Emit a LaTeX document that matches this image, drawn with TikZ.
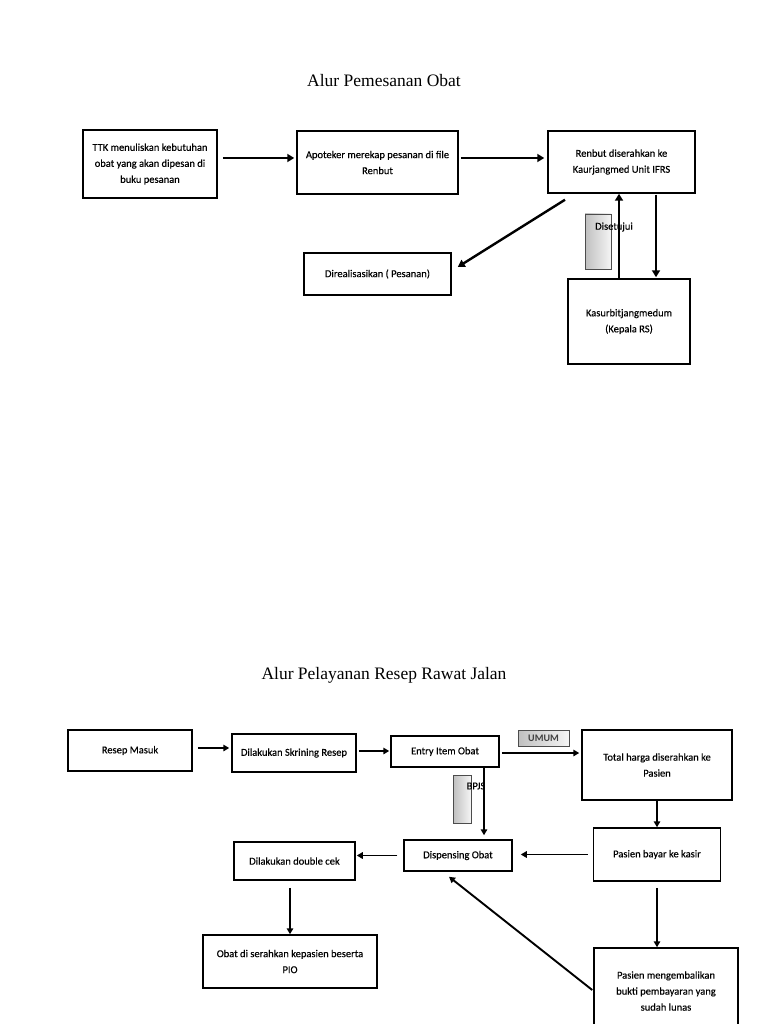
\documentclass[tikz,border=0pt]{standalone}
\usepackage{fontspec}
\setmainfont{Carlito}
\newfontfamily\boxfont{Carlito}[FakeBold=0.35]
\newfontfamily\titlefont{Liberation Serif}
\usetikzlibrary{arrows.meta}
\tikzset{
  box/.style={draw=black, line width=1.5pt, fill=white, align=center, inner sep=0pt,
    font=\boxfont\fontsize{10.5}{16}\selectfont},
  tag/.style={draw=black!70, line width=0.7pt, left color=black!25, right color=black!4},
  tagtext/.style={inner sep=0pt, font=\boxfont\fontsize{10.5}{12}\selectfont},
  arr/.style={line width=2.4pt, -{Triangle[length=7pt,width=8pt]}},
  arrb/.style={line width=1.9pt, -{Triangle[length=6pt,width=6.5pt]}},
  heading/.style={font=\titlefont\fontsize{17.5}{19}\selectfont, inner sep=0pt}
}
\begin{document}
\begin{tikzpicture}[x=1pt,y=-1pt]
\useasboundingbox[fill=white] (0,0) rectangle (768,1024);

% ---------------- Top flow ----------------
\node[heading] (t1) at (384,81) {Alur Pemesanan Obat};

\node[box, minimum width=134pt, minimum height=68pt] (ttk) at (150,164)
  {TTK menuliskan kebutuhan\\obat yang akan dipesan di\\buku pesanan};
\node[box, minimum width=161pt, minimum height=63pt] (apo) at (377.5,162.5)
  {Apoteker merekap pesanan di file\\Renbut};
\node[box, minimum width=147pt, minimum height=62pt] (ren) at (621.5,162)
  {Renbut diserahkan ke\\Kaurjangmed Unit IFRS};
\node[box, minimum width=147pt, minimum height=42pt] (real) at (377.5,274)
  {Direalisasikan ( Pesanan)};
\node[box, minimum width=122pt, minimum height=85pt] (kas) at (629,321.5)
  {Kasurbitjangmedum\\(Kepala RS)};

\node[tag, minimum width=26pt, minimum height=55pt, inner sep=0pt] (setuju) at (598,241.5) {};
\node[tagtext, anchor=west] (setujut) at (595,227) {Disetujui};

\draw[arr] ([shift={(5,-6)}]ttk.east) -- ([shift={(-2,-4.5)}]apo.west);
\draw[arr] ([shift={(2,-4.5)}]apo.east) -- ([shift={(-3,-4)}]ren.west);
\draw[arr] ([shift={(-56.5,6)}]ren.south) -- ([shift={(6,-7)}]real.east);
\draw[arr] ([shift={(-10,0)}]kas.north) -- ([shift={(-2.5,0)}]ren.south);
\draw[arr] ([shift={(34.5,1)}]ren.south) -- ([shift={(27,-1)}]kas.north);

% ---------------- Bottom flow ----------------
\node[heading] (t2) at (384,675) {Alur Pelayanan Resep Rawat Jalan};

\node[box, minimum width=124pt, minimum height=41pt] (resep) at (130,750.5) {Resep Masuk};
\node[box, minimum width=124pt, minimum height=38pt] (skr) at (294,753) {Dilakukan Skrining Resep};
\node[box, minimum width=108pt, minimum height=31pt] (entry) at (445,751.5) {Entry Item Obat};
\node[box, minimum width=150pt, minimum height=70pt] (total) at (657,765)
  {Total harga diserahkan ke\\Pasien};
\node[box, minimum width=127pt, minimum height=53pt] (kasir) at (657,854.5) {Pasien bayar ke kasir};
\node[box, minimum width=108pt, minimum height=31pt] (disp) at (458,855.5) {Dispensing Obat};
\node[box, minimum width=121pt, minimum height=38pt] (dcek) at (294.5,861) {Dilakukan double cek};
\node[box, minimum width=174pt, minimum height=53pt] (obat) at (290,961.5)
  {Obat di serahkan kepasien beserta\\PIO};
\node[box, minimum width=144pt, minimum height=86pt] (kembali) at (666,991)
  {Pasien mengembalikan\\bukti pembayaran yang\\sudah lunas};

\node[tag, minimum width=51pt, minimum height=16pt, inner sep=0pt, text=black!75,
  font=\fontsize{10}{11}\selectfont\bfseries] (umum) at (543.5,738) {UMUM};
\node[tag, minimum width=18pt, minimum height=48pt, inner sep=0pt] (bpjs) at (462,799) {};
\node[tagtext] (bpjst) at (476,786) {BPJS};

\draw[arrb] ([shift={(5,-2.5)}]resep.east) -- ([shift={(-2,-5)}]skr.west);
\draw[arrb] ([shift={(2,-2)}]skr.east) -- ([shift={(-1,-0.5)}]entry.west);
\draw[arrb] ([shift={(2,1.5)}]entry.east) -- ([shift={(-2,-12)}]total.west);
\draw[arrb] ([shift={(39,0)}]entry.south) -- ([shift={(26,-4)}]disp.north);
\draw[arrb] (total.south) -- (kasir.north);
\draw[arrb] ([shift={(-5,0)}]kasir.west) -- ([shift={(8,-1)}]disp.east);
\draw[arrb] ([shift={(-6,0)}]disp.west) -- ([shift={(1,-5.5)}]dcek.east);
\draw[arrb] ([shift={(-4.5,7)}]dcek.south) -- (obat.north);
\draw[arrb] ([shift={(0,6)}]kasir.south) -- ([shift={(-9,0)}]kembali.north);
\draw[arrb] ([shift={(-1,-1)}]kembali.west) -- ([shift={(-9,5)}]disp.south);
\end{tikzpicture}
\end{document}
